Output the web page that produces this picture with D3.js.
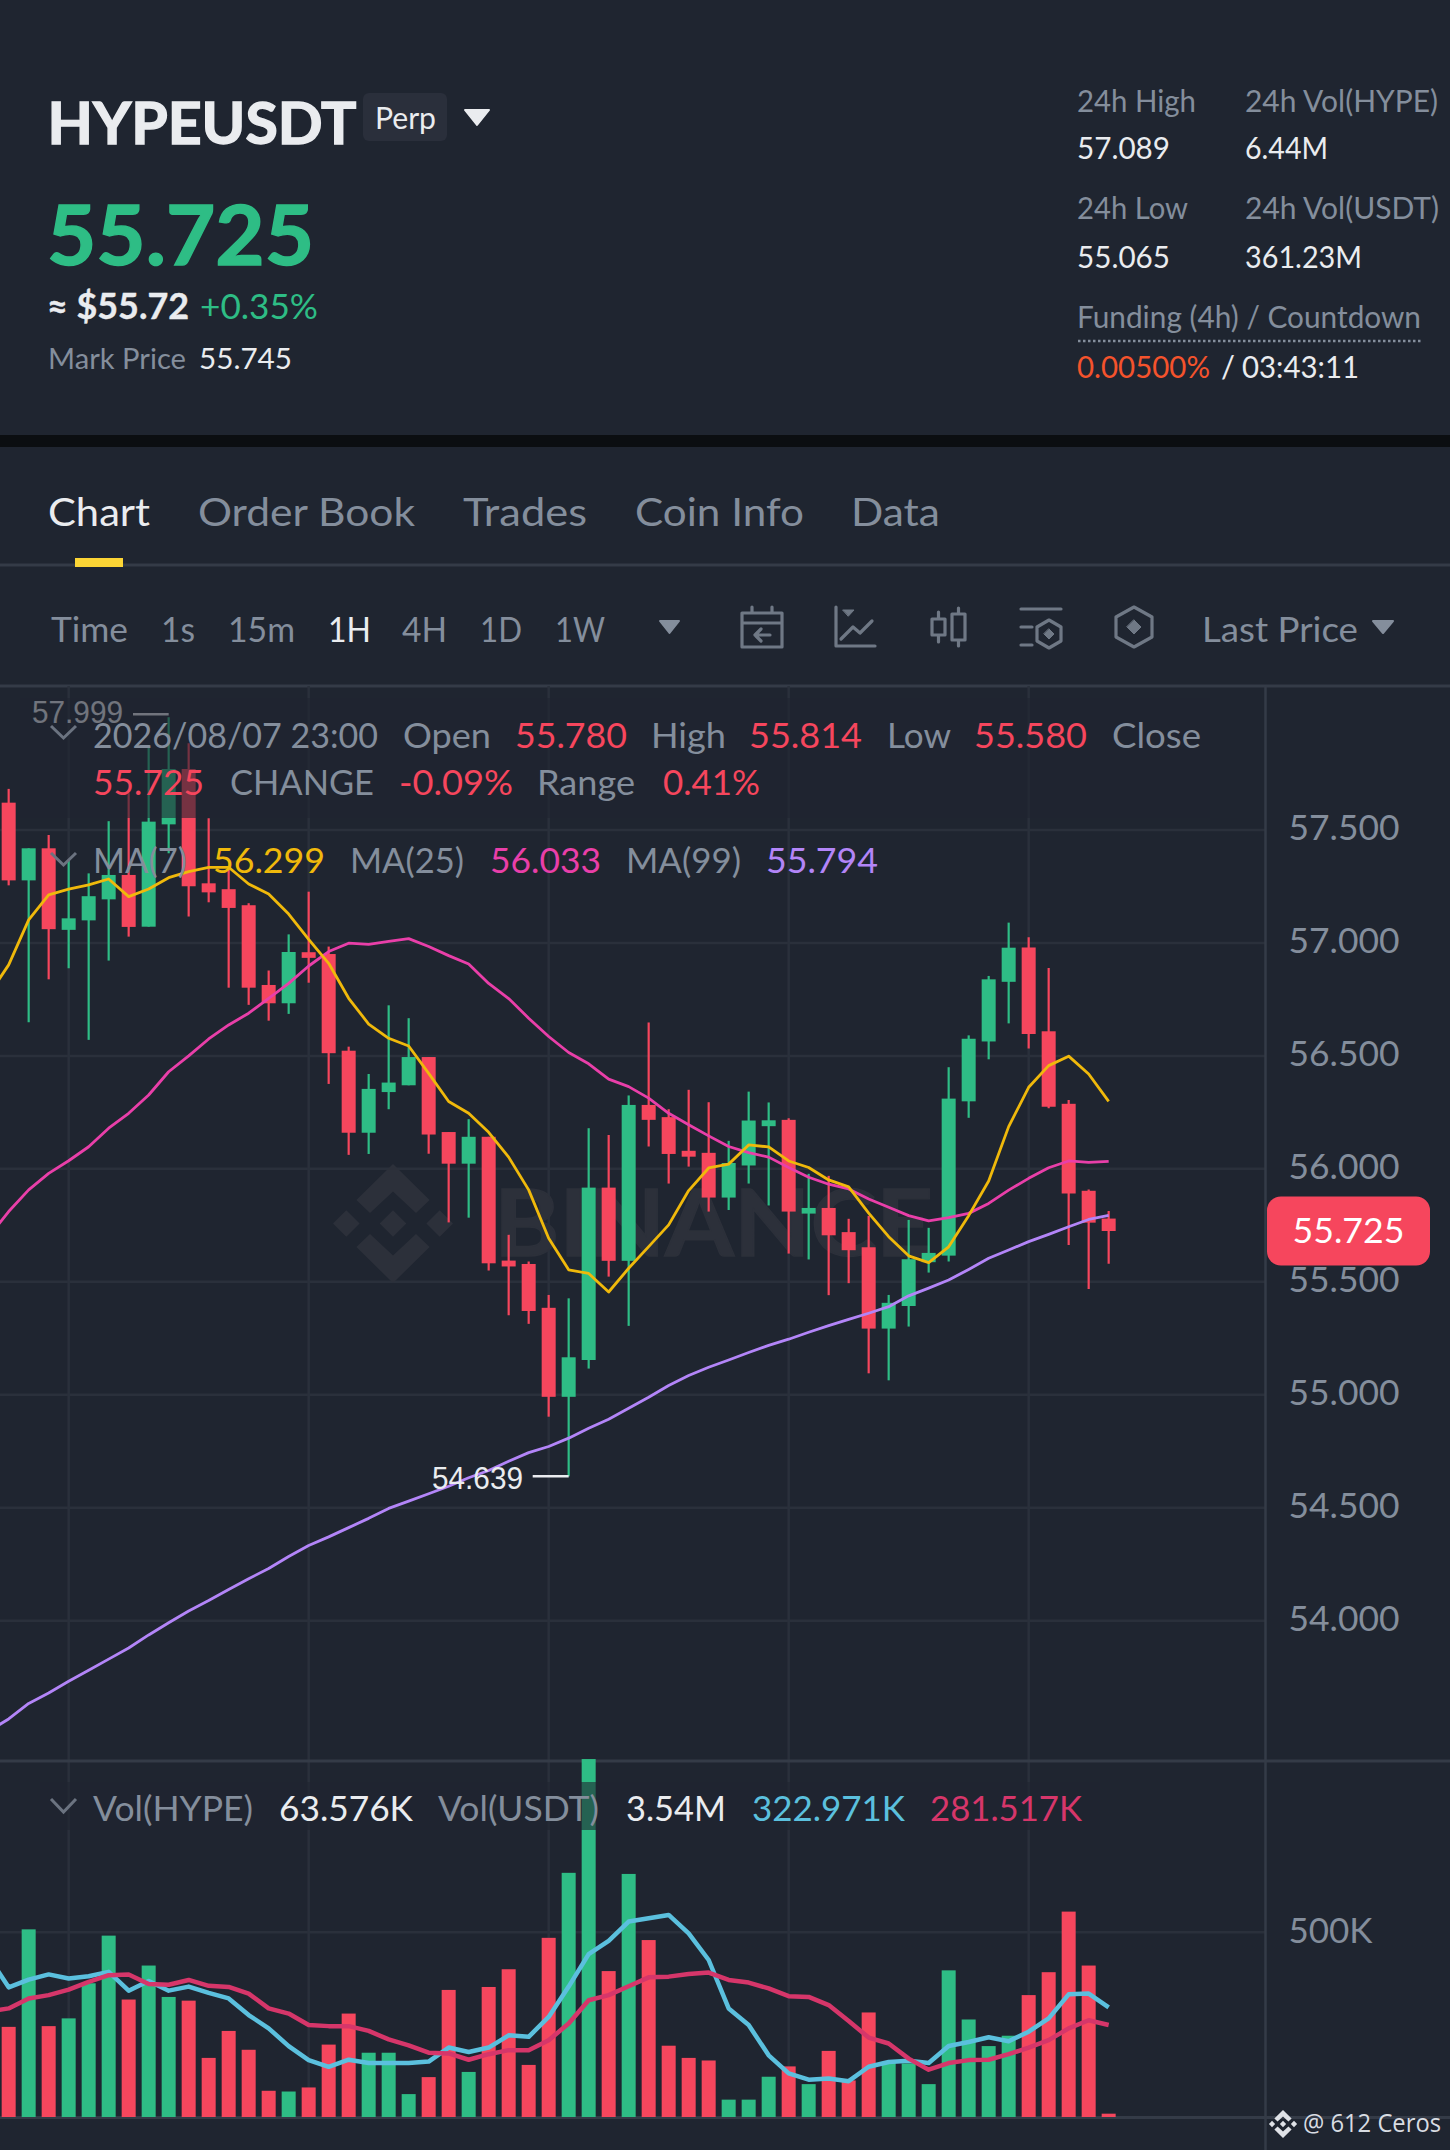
<!DOCTYPE html>
<html>
<head>
<meta charset="utf-8">
<script src="https://cdnjs.cloudflare.com/ajax/libs/d3/7.8.5/d3.min.js"></script>
<style>
	html, body {margin: 0; padding: 0; background: #1f2530;}
	svg {display: block;}
	text {font-family: Lato, "Open Sans", sans-serif;}
	.axis text {font-size: 34px; fill: #848e9c; font-family: Lato, sans-serif;}
	.axis path, .axis line {display: none;}
</style>
</head>
<body>
<div id="chart"></div>
<script>
// candle values, oldest first
var opens = [57.621,57.277,57.419,57.058,57.100,57.193,57.301,57.072,57.525,57.770,57.264,57.238,57.167,56.814,56.733,56.959,56.951,56.523,56.160,56.340,56.370,56.495,56.163,56.023,56.142,55.594,55.579,55.385,54.991,55.154,55.917,55.593,56.283,56.229,56.080,56.071,55.873,56.015,56.189,56.217,55.802,55.827,55.720,55.653,55.293,55.393,55.587,55.616,56.299,56.564,56.828,56.980,56.609,56.288,55.903,55.780];
var highs = [57.682,57.419,57.478,57.367,57.308,57.539,57.663,57.869,57.999,57.884,57.552,57.323,57.176,56.878,57.038,57.227,56.984,56.541,56.420,56.724,56.667,56.495,56.163,56.220,56.142,55.708,55.590,55.442,55.427,56.180,56.150,56.325,56.648,56.264,56.350,56.295,56.124,56.342,56.294,56.224,55.978,55.969,55.779,55.792,55.442,55.774,55.739,56.450,56.591,56.854,57.090,57.025,56.889,56.305,55.909,55.814];
var lows = [57.255,56.649,56.839,56.888,56.571,56.922,57.028,57.072,57.397,57.117,57.180,56.802,56.726,56.656,56.686,56.824,56.376,56.062,56.066,56.264,56.370,56.067,55.763,55.784,55.550,55.352,55.314,54.903,54.639,55.116,55.523,55.305,56.099,55.935,56.010,55.811,55.818,55.935,55.838,55.625,55.599,55.441,55.494,55.095,55.064,55.302,55.541,55.590,56.226,56.485,56.644,56.533,56.268,55.663,55.468,55.580];
var closes = [57.277,57.419,57.061,57.109,57.207,57.301,57.071,57.537,57.770,57.251,57.224,57.155,56.802,56.733,56.960,56.934,56.512,56.160,56.354,56.382,56.495,56.152,56.023,56.142,55.582,55.568,55.371,54.991,55.166,55.917,55.593,56.283,56.217,56.066,56.054,55.873,56.026,56.214,56.215,55.811,55.827,55.706,55.640,55.293,55.407,55.600,55.628,56.311,56.576,56.839,56.979,56.597,56.275,55.891,55.762,55.725];

// moving averages, the first value belongs to the candle just off the left edge
var ma7 = [56.770,56.903,57.102,57.213,57.238,57.257,57.283,57.205,57.239,57.289,57.316,57.335,57.335,57.261,57.217,57.128,57.016,56.910,56.755,56.641,56.578,56.544,56.423,56.298,56.246,56.162,56.052,55.907,55.693,55.553,55.537,55.455,55.560,55.656,55.752,55.904,56.004,56.021,56.106,56.097,56.035,56.006,55.951,55.920,55.804,55.700,55.615,55.585,55.655,55.793,55.946,56.187,56.361,56.457,56.499,56.420,56.299];
var ma25 = [55.700,55.811,55.907,55.980,56.036,56.098,56.180,56.246,56.327,56.430,56.500,56.575,56.637,56.689,56.755,56.821,56.898,56.962,56.999,56.994,57.007,57.019,56.984,56.944,56.907,56.821,56.754,56.667,56.586,56.515,56.465,56.397,56.364,56.313,56.246,56.195,56.146,56.099,56.072,56.052,56.006,55.963,55.932,55.911,55.867,55.830,55.793,55.770,55.784,55.803,55.847,55.906,55.958,56.005,56.035,56.029,56.033];
var ma99 = [53.511,53.565,53.634,53.680,53.732,53.781,53.830,53.879,53.937,53.991,54.043,54.089,54.138,54.186,54.231,54.284,54.333,54.371,54.412,54.453,54.497,54.529,54.562,54.595,54.633,54.665,54.706,54.744,54.771,54.808,54.852,54.892,54.940,54.989,55.041,55.085,55.122,55.154,55.187,55.219,55.246,55.277,55.306,55.334,55.361,55.390,55.438,55.472,55.508,55.555,55.604,55.641,55.678,55.710,55.744,55.776,55.794];

// volume in thousands
var volumes = [244,508,246,267,362,491,318,410,325,315,160,233,182,71,69,80,196,280,174,174,62,108,344,122,352,400,141,485,661,969,395,658,479,193,160,153,47,47,109,137,89,179,99,283,149,145,89,397,264,192,220,330,392,556,410,9];
var volMaFast = [434,351,372,386,375,381,393,342,368,342,353,336,321,276,240,192,154,136,155,146,146,146,150,188,176,188,221,217,271,353,441,477,529,538,547,497,425,294,249,167,118,101,104,97,136,149,152,146,192,203,216,205,231,267,332,334,297];
var volMaSlow = [285,294,321,330,345,366,384,386,360,358,371,355,352,334,294,280,249,246,246,233,210,194,174,172,155,170,181,181,208,253,316,330,354,378,380,387,391,371,364,348,327,325,303,260,215,199,158,128,146,154,155,170,188,208,240,262,249];

var priceTicks = [54, 54.5, 55, 55.5, 56, 56.5, 57, 57.5];
var volTicks = [500];
var timeGrid = [3, 15, 27, 39, 51];
var lastPrice = 55.725;
var maxIdx = 8, minIdx = 28;

var c_bg = "#1f2530", c_grid = "#2a303b", c_line = "#343b47";
var c_up = "#2ebd85", c_down = "#f6465d", c_text = "#eaecef", c_gray = "#848e9c";
var c_ma7 = "#f0b90b", c_ma25 = "#e93fa9", c_ma99 = "#b385f8", c_vfast = "#5bc0de", c_vslow = "#d6366a";

var W = 1450, H = 2150, axisX = 1265.5;

var svg = d3.select("#chart").append("svg").attr("width", W).attr("height", H);
svg.append("rect").attr("width", W).attr("height", H).attr("fill", c_bg);

var x = d3.scaleLinear().domain([0, 55]).range([8.67, 1108.67]);
var y = d3.scaleLinear().domain([54, 57.5]).range([1620.7, 830]);
var yVol = d3.scaleLinear().domain([0, 500]).range([2117, 1932.3]);

function label(px, py, str, size, color, w, weight, font, anchor){
	var t = svg.append("text").attr("x", px).attr("y", py + 1.3).text(str)
		.attr("font-size", size * 1.03).attr("fill", color);
	if (w) {t.attr("textLength", w).attr("lengthAdjust", "spacingAndGlyphs");}
	if (weight) {t.attr("font-weight", weight).attr("stroke", color).attr("stroke-width", size > 50 ? 1.4 : 0.4);}
	if (font) {t.style("font-family", font);}
	if (anchor) {t.attr("text-anchor", anchor);}
	return t;
}

function tri(x0, x1, y0, y1, color){
	svg.append("path").attr("fill", color).attr("stroke", color).attr("stroke-width", 2).attr("stroke-linejoin", "round")
		.attr("d", "M" + (x0+1) + "," + (y0+1) + "L" + (x1-1) + "," + (y0+1) + "L" + ((x0+x1)/2) + "," + (y1-1) + "Z");
}

function chevron(x0, x1, y0, y1){
	svg.append("path").attr("fill", "none").attr("stroke", "#6b7380").attr("stroke-width", 3)
		.attr("d", "M" + x0 + "," + y0 + "L" + ((x0+x1)/2) + "," + y1 + "L" + x1 + "," + y0);
}

function hline(y0, x0, x1, color, sw){
	svg.append("line").attr("x1", x0).attr("x2", x1).attr("y1", y0).attr("y2", y0)
		.attr("stroke", color).attr("stroke-width", sw);
}

// the exchange logo, r is half of its height
function logo(g, cx, cy, r, color){
	var k = r / 59.5;
	function diamond(dx, dy, s){
		return "M" + (cx+dx*k) + "," + (cy+(dy-s)*k) + "L" + (cx+(dx+s)*k) + "," + (cy+dy*k)
			+ "L" + (cx+dx*k) + "," + (cy+(dy+s)*k) + "L" + (cx+(dx-s)*k) + "," + (cy+dy*k) + "Z";
	}
	function arrow(sgn){
		var pts = [[0,-59.5],[36.6,-23.5],[23,-10.5],[0,-32],[-23,-10.5],[-36.6,-23.5]];
		return "M" + pts.map(function(p){return (cx+p[0]*k) + "," + (cy+sgn*p[1]*k);}).join("L") + "Z";
	}
	g.append("path").attr("fill", color)
		.attr("d", diamond(0,0,13.3) + diamond(-46.7,0,13.3) + diamond(46.7,0,13.3) + arrow(1) + arrow(-1));
}

/////////////////////////////////////////////////////////////
// header
svg.append("rect").attr("x", 0).attr("y", 435).attr("width", W).attr("height", 12).attr("fill", "#0b0e11");

label(47.500, 143, "HYPEUSDT", 56, c_text, 309, 700);
svg.append("rect").attr("x", 363).attr("y", 93).attr("width", 84).attr("height", 48).attr("rx", 6).attr("fill", "#2a2f3b");
label(375, 128, "Perp", 30, c_text, 61);
tri(464, 490, 109, 126, c_text);

label(47, 264, "55.725", 80, c_up, 267, 700);
label(47, 318, "≈ $55.72", 35, c_text, 142, 700);
label(200, 318, "+0.35%", 33, c_up, 118);
label(48, 368, "Mark Price", 29, c_gray, 138);
label(199, 368, "55.745", 29, c_text, 93);

label(1077, 111, "24h High", 30, c_gray, 119);
label(1245, 111, "24h Vol(HYPE)", 30, c_gray, 193);
label(1077, 158, "57.089", 30, c_text, 93);
label(1245, 158, "6.44M", 30, c_text, 83);
label(1077, 218, "24h Low", 30, c_gray, 111);
label(1245, 218, "24h Vol(USDT)", 30, c_gray, 194);
label(1077, 267, "55.065", 30, c_text, 93);
label(1245, 267, "361.23M", 30, c_text, 117);
label(1077, 327, "Funding (4h) / Countdown", 30, c_gray, 344);
svg.append("line").attr("x1", 1078).attr("x2", 1422).attr("y1", 341).attr("y2", 341)
	.attr("stroke", c_gray).attr("stroke-width", 2.5).attr("stroke-dasharray", "2.5,2.5");
label(1077, 377, "0.00500%", 30, "#f4532c", 133);
label(1221, 377, "/", 30, c_text);
label(1242, 377, "03:43:11", 30, c_text, 117);

// tabs
label(48, 525, "Chart", 38, c_text, 102);
label(198, 525, "Order Book", 38, c_gray, 217);
label(463, 525, "Trades", 38, c_gray, 124);
label(635, 525, "Coin Info", 38, c_gray, 169);
label(851, 525, "Data", 38, c_gray, 89);
hline(565, 0, W, c_line, 3);
svg.append("rect").attr("x", 75).attr("y", 558).attr("width", 48).attr("height", 9).attr("fill", "#fcd535");

// toolbar
label(51, 641, "Time", 33, c_gray, 77);
label(161, 641, "1s", 33, c_gray, 34);
label(228, 641, "15m", 33, c_gray, 67);
label(328, 641, "1H", 33, c_text, 43);
label(402, 641, "4H", 33, c_gray, 45);
label(480, 641, "1D", 33, c_gray, 42);
label(555, 641, "1W", 33, c_gray, 50);
tri(659, 680, 620, 634, c_gray);
label(1202, 641, "Last Price", 33, c_gray, 156);
tri(1372, 1394, 620, 634, c_gray);

var icons = svg.append("g").attr("fill", "none").attr("stroke", "#6f7885").attr("stroke-width", 3.2)
	.attr("stroke-linejoin", "round").attr("stroke-linecap", "round");
// calendar
icons.append("path").attr("d", "M742,613H782V647H742ZM742,623H782M752,607V613M772,607V613M770,635H755M761,629L755,635L761,641");
// line chart
icons.append("path").attr("d", "M836,607V646H875M841,639L853,627L860,633L872,621");
icons.append("path").attr("d", "M843,610H854L848.5,616Z").attr("fill", "#6f7885").attr("stroke-width", 1);
// candles
icons.append("path").attr("d", "M932,619H945V635H932ZM938.500,612V619M938.500,635V642M952,614H965V640H952ZM958.500,608V614M958.500,640V646");
// indicator list
icons.append("path").attr("d", "M1021,609H1061M1021,627H1032M1021,645H1032M1049,620L1061,627V641L1049,648L1037,641V627Z");
icons.append("path").attr("d", "M1049,629L1054,634L1049,639L1044,634Z").attr("fill", "#6f7885").attr("stroke-width", 1);
// hexagon
icons.append("path").attr("d", "M1134,607L1152,617V637L1134,647L1116,637V617Z");
icons.append("path").attr("d", "M1134,620L1141,627L1134,634L1127,627Z").attr("fill", "#6f7885").attr("stroke-width", 1);

hline(686, 0, W, c_line, 3);

/////////////////////////////////////////////////////////////
// grid
var grid = svg.append("g").attr("stroke", c_grid).attr("stroke-width", 2.5);
grid.selectAll(".hp").data(priceTicks).enter().append("line")
	.attr("x1", 0).attr("x2", axisX).attr("y1", y).attr("y2", y);
grid.selectAll(".hv").data(volTicks).enter().append("line")
	.attr("x1", 0).attr("x2", axisX).attr("y1", yVol).attr("y2", yVol);
grid.selectAll(".vg").data(timeGrid).enter().append("line")
	.attr("x1", x).attr("x2", x).attr("y1", 686).attr("y2", 2117);

// watermark
logo(svg, 393, 1223.5, 59.5, "#2c303a");
label(494, 1255, "BINANCE", 90, "#2c303a", 439, 700);

svg.append("line").attr("x1", axisX).attr("x2", axisX).attr("y1", 686).attr("y2", H)
	.attr("stroke", c_line).attr("stroke-width", 2.5);
hline(1761, 0, W, c_line, 3);
hline(2117.500, 0, W, c_line, 3);

/////////////////////////////////////////////////////////////
// candles
var idx = d3.range(opens.length);
var candleColor = function(i){return closes[i] >= opens[i] ? c_up : c_down;};

var defs = svg.append("defs");
defs.append("clipPath").attr("id", "clipPrice").append("rect").attr("x", 0).attr("y", 688).attr("width", axisX).attr("height", 1072);
defs.append("clipPath").attr("id", "clipVol").append("rect").attr("x", 0).attr("y", 1759).attr("width", axisX).attr("height", 358);

var pricePane = svg.append("g").attr("clip-path", "url(#clipPrice)");
pricePane.selectAll(".wick").data(idx).enter().append("line").classed("wick", true)
	.attr("x1", x).attr("x2", x)
	.attr("y1", function(i){return y(highs[i]);})
	.attr("y2", function(i){return y(lows[i]);})
	.attr("stroke", candleColor).attr("stroke-width", 2.2);
pricePane.selectAll(".body").data(idx).enter().append("rect").classed("body", true)
	.attr("x", function(i){return x(i) - 7;})
	.attr("y", function(i){return y(Math.max(opens[i], closes[i]));})
	.attr("width", 14)
	.attr("height", function(i){return Math.max(1, Math.abs(y(opens[i]) - y(closes[i])));})
	.attr("fill", candleColor);

var maLine = d3.line().x(function(d, i){return x(i - 1);}).y(function(d){return y(d);});
[[ma99, c_ma99], [ma25, c_ma25], [ma7, c_ma7]].forEach(function(s){
	pricePane.append("path").attr("d", maLine(s[0])).attr("fill", "none")
		.attr("stroke", s[1]).attr("stroke-width", 2.8).attr("stroke-linejoin", "round");
});

// highest and lowest price markers
label(32, 722, d3.format(".3f")(highs[maxIdx]), 30, c_text, 91, null, "'Liberation Sans'");
hline(y(highs[maxIdx]) - 3, 133, x(maxIdx), c_text, 2.5);
label(432, 1488, d3.format(".3f")(lows[minIdx]), 30, c_text, 91, null, "'Liberation Sans'");
hline(y(lows[minIdx]), 532.700, x(minIdx), c_text, 2.5);

/////////////////////////////////////////////////////////////
// volume
var volPane = svg.append("g").attr("clip-path", "url(#clipVol)");
volPane.selectAll(".vol").data(idx).enter().append("rect").classed("vol", true)
	.attr("x", function(i){return x(i) - 7;})
	.attr("y", function(i){return yVol(volumes[i]);})
	.attr("width", 14)
	.attr("height", function(i){return yVol(0) - yVol(volumes[i]);})
	.attr("fill", candleColor);

var volLine = d3.line().x(function(d, i){return x(i - 1);}).y(function(d){return yVol(d);});
[[volMaFast, c_vfast], [volMaSlow, c_vslow]].forEach(function(s){
	volPane.append("path").attr("d", volLine(s[0])).attr("fill", "none")
		.attr("stroke", s[1]).attr("stroke-width", 4.5).attr("stroke-linejoin", "round");
});

/////////////////////////////////////////////////////////////
// legends sit on a half covering band
svg.append("rect").attr("x", 20).attr("y", 698).attr("width", 1190).attr("height", 120).attr("fill", c_bg).attr("opacity", 0.6);
svg.append("rect").attr("x", 40).attr("y", 1782).attr("width", 1060).attr("height", 48).attr("fill", c_bg).attr("opacity", 0.6);

chevron(51, 76, 726, 738);
label(93, 747, "2026/08/07 23:00", 33, c_gray, 285);
label(403, 747, "Open", 33, c_gray, 88);
label(515, 747, "55.780", 33, c_down, 112);
label(651, 747, "High", 33, c_gray, 75);
label(749, 747, "55.814", 33, c_down, 113);
label(887, 747, "Low", 33, c_gray, 64);
label(974, 747, "55.580", 33, c_down, 113);
label(1112, 747, "Close", 33, c_gray, 89);

label(93, 794, "55.725", 33, c_down, 111);
label(230, 794, "CHANGE", 33, c_gray, 144);
label(399, 794, "-0.09%", 33, c_down, 114);
label(537, 794, "Range", 33, c_gray, 98);
label(663, 794, "0.41%", 33, c_down, 97);

chevron(51, 76, 853, 865);
label(93, 872, "MA(7)", 33, c_gray, 94);
label(213, 872, "56.299", 33, c_ma7, 112);
label(350, 872, "MA(25)", 33, c_gray, 114);
label(490, 872, "56.033", 33, c_ma25, 111);
label(626, 872, "MA(99)", 33, c_gray, 115);
label(766, 872, "55.794", 33, c_ma99, 112);

chevron(51, 76, 1799, 1812);
label(93, 1820, "Vol(HYPE)", 33, c_gray, 160);
label(279, 1820, "63.576K", 33, c_text, 134);
label(438, 1820, "Vol(USDT)", 33, c_gray, 161);
label(626, 1820, "3.54M", 33, c_text, 100);
label(752, 1820, "322.971K", 33, c_vfast, 153);
label(930, 1820, "281.517K", 33, c_vslow, 152);

/////////////////////////////////////////////////////////////
// axes
var priceAxis = d3.axisRight(y).tickValues(priceTicks).tickSize(0).tickPadding(23).tickFormat(d3.format(".3f"));
svg.append("g").attr("class", "axis").attr("transform", "translate(" + axisX + ",0)").call(priceAxis)
	.selectAll("text").attr("dy", "0.29em").attr("textLength", 111).attr("lengthAdjust", "spacingAndGlyphs");
var volAxis = d3.axisRight(yVol).tickValues(volTicks).tickSize(0).tickPadding(23).tickFormat(function(d){return d + "K";});
svg.append("g").attr("class", "axis").attr("transform", "translate(" + axisX + ",0)").call(volAxis)
	.selectAll("text").attr("dy", "0.29em").attr("textLength", 84).attr("lengthAdjust", "spacingAndGlyphs");

// last price tag
svg.append("rect").attr("x", 1267).attr("y", y(lastPrice) - 34.500).attr("width", 163).attr("height", 69).attr("rx", 14).attr("fill", c_down);
label(1348.500, y(lastPrice) + 11, d3.format(".3f")(lastPrice), 33, "#ffffff", 112, null, null, "middle");

// footer
logo(svg, 1283, 2124, 14, "#dfe2e7");
label(1303, 2131, "@ 612 Ceros", 25, "#d8dce2", 138, null, "'Open Sans'");
</script>
</body>
</html>
